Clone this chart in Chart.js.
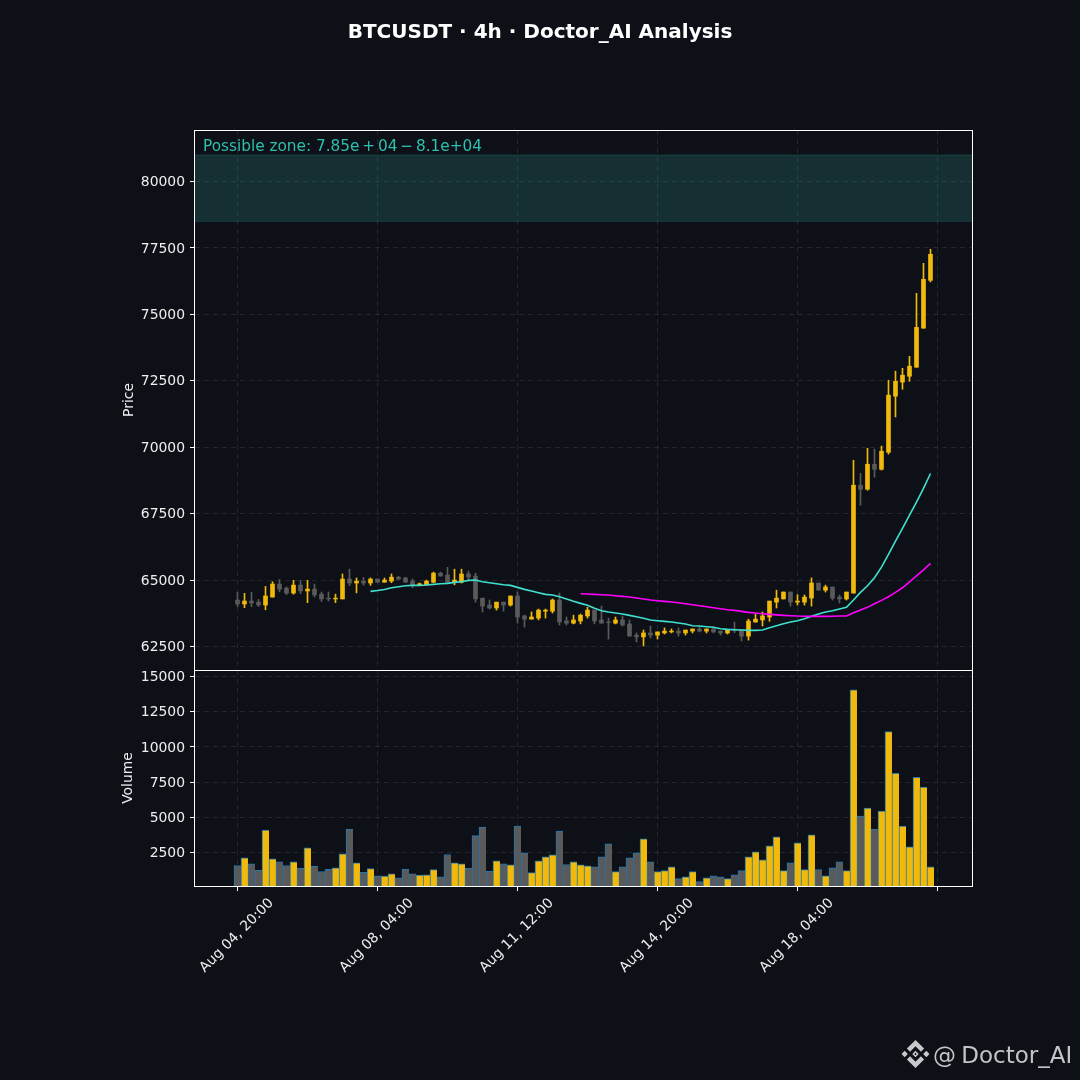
<!DOCTYPE html>
<html><head><meta charset="utf-8">
<script src="https://cdn.jsdelivr.net/npm/chart.js@4"></script>
<style>html,body{margin:0;padding:0;background:#0d1117}canvas{display:block}</style>
</head><body><canvas id="c" width="1080" height="1080"></canvas>
<script>
const titleText = "BTCUSDT · 4h · Doctor_AI Analysis";
const zonePrefix = "Possible zone: ";
const zoneRange = "7.85e + 04 − 8.1e+04";
const watermark = "@ Doctor_AI";
const tickLabels = ["Aug 04, 20:00","Aug 08, 04:00","Aug 11, 12:00","Aug 14, 20:00","Aug 18, 04:00",""];
const priceTicks = [62500,65000,67500,70000,72500,75000,77500,80000];
const volumeTicks = [2500,5000,7500,10000,12500,15000];
const zoneLow = 78500, zoneHigh = 81000;
const opens = [64250,64100,64210,64170,64060,64360,64850,64700,64510,64810,64590,64660,64470,64320,64290,64290,65040,64890,64960,64890,65040,64920,64960,65110,65080,64960,64810,64820,64920,65260,65190,64920,64920,65230,65150,64320,64060,63950,64170,64060,64400,63650,63530,63570,63830,63830,64250,63460,63380,63460,63650,63870,63500,63420,63380,63500,63350,62930,62860,63010,62930,63010,63050,63080,63010,63080,63160,63080,63160,63080,63010,63150,63120,62890,63420,63500,63610,64170,64290,64550,64170,64170,64320,64890,64620,64740,64360,64290,64510,68570,68420,69360,69170,69810,71920,72450,72670,73010,74480,76280];
const highs = [64540,64500,64540,64270,64760,64940,65020,64740,64990,64990,64990,64850,64550,64550,64470,65230,65410,65080,65100,65080,65040,65080,65230,65140,65110,65040,64890,65000,65300,65300,65480,65410,65410,65340,65260,64320,64250,64170,64170,64400,64550,63680,63800,63910,63910,64290,64510,63610,63680,63720,63980,63870,64020,63570,63610,63650,63500,63010,63120,63270,63050,63200,63160,63200,63120,63160,63230,63160,63230,63080,63120,63420,63120,63530,63720,63800,64210,64620,64550,64550,64450,64440,65080,64890,64810,64740,64440,64550,69510,69020,69960,69930,70040,72520,72860,72970,73420,75790,76920,77450];
const lows = [64000,63960,64000,64000,63880,64360,64560,64450,64470,64490,64150,64360,64190,64210,64150,64290,64790,64520,64810,64800,64920,64920,64900,65000,64920,64710,64810,64820,64900,65150,64890,64820,64890,64990,64170,63800,63910,63870,63830,64020,63380,63230,63530,63500,63570,63760,63310,63310,63350,63350,63570,63350,63380,62780,63350,63270,62890,62670,62520,62820,62780,62970,63010,62890,62930,63010,63050,63010,63010,62930,62970,63020,62710,62740,63420,63270,63450,63950,64290,64020,64060,64060,64020,64620,64550,64250,64140,64250,64510,67820,68380,68870,69140,69740,71140,72180,72480,73010,74480,76220];
const closes = [64100,64210,64140,64060,64400,64850,64660,64510,64810,64590,64660,64440,64290,64290,64320,65040,64890,64960,64890,65040,64920,65000,65110,65040,64920,64810,64860,64960,65260,65150,64920,65000,65230,65110,64290,64020,63950,64170,64060,64400,63610,63530,63610,63870,63870,64250,63420,63380,63500,63680,63870,63460,63380,63400,63500,63310,62890,62860,63010,62930,63050,63080,63080,63010,63120,63160,63080,63160,63050,63010,63120,63100,62890,63460,63530,63650,64210,64320,64550,64170,64210,64360,64890,64620,64740,64320,64290,64550,68570,68420,69360,69170,69850,71960,72480,72710,73050,74510,76320,77260];
const volumes = [1580,2120,1700,1230,4100,2050,1840,1580,1840,1370,2830,1510,1140,1300,1420,2410,4170,1770,1090,1350,850,830,990,710,1300,990,900,920,1280,780,2360,1770,1700,1370,3700,4310,1160,1910,1700,1630,4380,2480,1070,1910,2190,2340,4030,1650,1840,1630,1560,1490,2190,3110,1140,1490,2120,2480,3470,1840,1140,1210,1490,640,780,1140,430,710,850,780,640,920,1210,2190,2550,1980,2970,3610,1210,1770,3180,1280,3750,1280,850,1420,1840,1210,14050,5090,5650,4170,5440,11090,8120,4380,2900,7840,7140,1490];
const ma20Start = 19;
const ma20 = [64575,64605,64643,64710,64748,64786,64800,64800,64812,64838,64861,64876,64914,64936,64989,65000,64936,64898,64861,64823,64800,64726,64650,64586,64522,64462,64436,64372,64286,64200,64124,64050,63936,63846,63797,63759,63722,63673,63620,63560,63496,63470,63447,63421,63383,63346,63282,63270,63244,63222,63169,63146,63131,63120,63109,63109,63120,63206,63282,63357,63421,63470,63545,63635,63722,63797,63846,63910,63974,64248,64538,64786,65086,65489,65966,66466,66944,67444,67930,68448,69012];
const ma50Start = 49;
const ma50 = [64485,64474,64462,64447,64436,64410,64387,64361,64323,64286,64248,64222,64200,64173,64146,64109,64071,64034,63996,63958,63921,63883,63861,63823,63786,63759,63733,63710,63692,63673,63658,63646,63640,63635,63635,63635,63640,63646,63646,63770,63872,63974,64109,64237,64372,64538,64710,64936,65162,65387,65628];

const BG = "#0d1117", GOLD = "#f0b90b", GREY = "#5a5a5a", TEAL = "#40e0d0", TXT = "#eeeeee";
const GRID = "rgba(255,255,255,0.09)";
const FONT = "'DejaVu Sans'";
const idx = opens.map((_, i) => i);
const xMin = -6.214, xMax = 104.93;
const candleColor = idx.map(i => closes[i] >= opens[i] ? GOLD : GREY);

const framePlugin = {
  id: "frame",
  beforeDraw(chart) {
    const c = chart.ctx;
    c.save(); c.fillStyle = BG; c.fillRect(0, 0, chart.width, chart.height); c.restore();
  },
  afterDraw(chart) {
    const c = chart.ctx, a = chart.chartArea, s = chart.scales;
    c.save();
    c.strokeStyle = "#ffffff"; c.lineWidth = 1;
    c.strokeRect(Math.round(a.left) + .5, Math.round(a.top) + .5, Math.round(a.right - a.left), Math.round(a.bottom - a.top));
    const mid = Math.round(s.y.bottom) + .5;
    c.beginPath(); c.moveTo(a.left, mid); c.lineTo(a.right, mid); c.stroke();
    c.fillStyle = "#2fbfae";
    c.font = "15.3px " + FONT; c.textBaseline = "alphabetic"; c.textAlign = "left";
    c.fillText(zonePrefix, a.left + 9, a.top + 21);
    const px = c.measureText(zonePrefix).width;
    c.wordSpacing = "-2px";
    c.fillText(zoneRange, a.left + 9 + px, a.top + 21);
    c.wordSpacing = "0px";
    // watermark
    const k = 28 / 126.61;
    c.translate(901.5, 1040); c.scale(k, k);
    c.fillStyle = "#c8c9cb";
    ["M38.73 53.2l24.59-24.58 24.6 24.6 14.3-14.31L63.32 0 24.43 38.9z",
     "M0 63.31l14.3-14.31 14.31 14.31-14.31 14.3z",
     "M38.73 73.41l24.59 24.59 24.6-24.6 14.31 14.29-38.9 38.91-38.91-38.88-.02-.02z",
     "M98 63.31l14.3-14.31 14.31 14.3-14.31 14.32z",
     "M77.83 63.3L63.32 48.78 48.81 63.28l14.51 14.5z"].forEach(p => c.fill(new Path2D(p)));
    c.fillStyle = BG;
    c.fill(new Path2D("M68.5 63.3L63.32 58.1 58.1 63.3l5.2 5.2z"));
    c.setTransform(1, 0, 0, 1, 0, 0);
    c.fillStyle = "#c4c5c7";
    c.font = "23px " + FONT; c.textAlign = "left";
    c.wordSpacing = "-2px";
    c.fillText(watermark, 933, 1063);
    c.wordSpacing = "0px";
    c.restore();
  }
};

new Chart(document.getElementById("c"), {
  data: {
    datasets: [
      { type: "line", order: 20, label: "zone", data: [{x: xMin, y: zoneHigh}, {x: xMax, y: zoneHigh}],
        xAxisID: "x", yAxisID: "y", pointRadius: 0, borderWidth: 1, borderColor: "rgba(64,224,208,0.16)",
        backgroundColor: "rgba(64,224,208,0.15)", fill: {value: zoneLow} },
      { type: "line", order: 20, label: "zoneEdge", data: [{x: xMin, y: zoneLow}, {x: xMax, y: zoneLow}],
        xAxisID: "x", yAxisID: "y", pointRadius: 0, borderWidth: 1, borderColor: "rgba(64,224,208,0.16)", fill: false },
      { type: "bar", order: 6, label: "wick", data: idx.map(i => ({x: i, y: [lows[i], highs[i]]})),
        xAxisID: "x", yAxisID: "y", barThickness: 1, backgroundColor: candleColor, grouped: false },
      { type: "bar", order: 5, label: "body", data: idx.map(i => ({x: i, y: [opens[i], closes[i]]})),
        xAxisID: "x", yAxisID: "y", barThickness: 4, backgroundColor: candleColor, grouped: false },
      { type: "line", order: 2, label: "MA20", data: ma20.map((y, i) => ({x: i + ma20Start, y})),
        xAxisID: "x", yAxisID: "y", pointRadius: 0, borderWidth: 1.6, borderColor: TEAL, fill: false, tension: 0 },
      { type: "line", order: 1, label: "MA50", data: ma50.map((y, i) => ({x: i + ma50Start, y})),
        xAxisID: "x", yAxisID: "y", pointRadius: 0, borderWidth: 1.6, borderColor: "#ff00ff", fill: false, tension: 0 },
      { type: "bar", order: 7, label: "Volume", data: idx.map(i => ({x: i, y: volumes[i]})),
        xAxisID: "x", yAxisID: "yVol", barThickness: 7, backgroundColor: candleColor,
        borderColor: "#1f77b4", borderSkipped: false, borderWidth: {top: 1, left: 1, right: 0, bottom: 0}, grouped: false }
    ]
  },
  options: {
    responsive: false, animation: false, devicePixelRatio: 1,
    layout: { padding: { left: 108, right: 108, top: 0, bottom: 0 } },
    plugins: {
      legend: { display: false }, tooltip: { enabled: false },
      title: { display: true, text: titleText, color: "#ffffff",
        font: { family: FONT, size: 20, weight: "bold" }, padding: { top: 20.5, bottom: 85.5 } }
    },
    scales: {
      x: { type: "linear", position: "bottom", min: xMin, max: xMax, offset: false,
        afterFit(s) { s.height = 194; },
        grid: { color: GRID, offset: false, tickColor: "#ffffff", tickLength: 5, tickBorderDash: [] },
        border: { color: "#ffffff", width: 1, dash: [5, 4] },
        ticks: { stepSize: 20, includeBounds: false, autoSkip: false, minRotation: 45, maxRotation: 45,
          labelOffset: 34, padding: 4, color: TXT, font: { family: FONT, size: 13.9 },
          callback: v => tickLabels[v / 20] ?? "" } },
      y: { type: "linear", position: "left", stack: "main", stackWeight: 540, weight: 1, min: 61616, max: 81938,
        afterFit(s) { s.width = 86; },
        afterBuildTicks(s) { s.ticks = priceTicks.map(value => ({value})); },
        grid: { color: GRID, tickColor: "#ffffff", tickLength: 4, tickBorderDash: [] },
        border: { color: "#ffffff", width: 1, dash: [5, 4] },
        title: { display: true, text: "Price", color: TXT, font: { family: FONT, size: 13.9 }, padding: { top: 13, bottom: 0 } },
        ticks: { padding: 5, labelOffset: 1, color: TXT, font: { family: FONT, size: 13.9 }, callback: v => String(v) } },
      yVol: { type: "linear", position: "left", stack: "main", stackWeight: 216, weight: 0, min: 121, max: 15462,
        afterFit(s) { s.width = 86; },
        afterBuildTicks(s) { s.ticks = volumeTicks.map(value => ({value})); },
        grid: { color: GRID, tickColor: "#ffffff", tickLength: 4, tickBorderDash: [] },
        border: { color: "#ffffff", width: 1, dash: [5, 4] },
        title: { display: true, text: "Volume", color: TXT, font: { family: FONT, size: 13.9 }, padding: { top: 12, bottom: 0 } },
        ticks: { padding: 5, labelOffset: 1, color: TXT, font: { family: FONT, size: 13.9 }, callback: v => String(v) } }
    }
  },
  plugins: [framePlugin]
});
</script></body></html>
